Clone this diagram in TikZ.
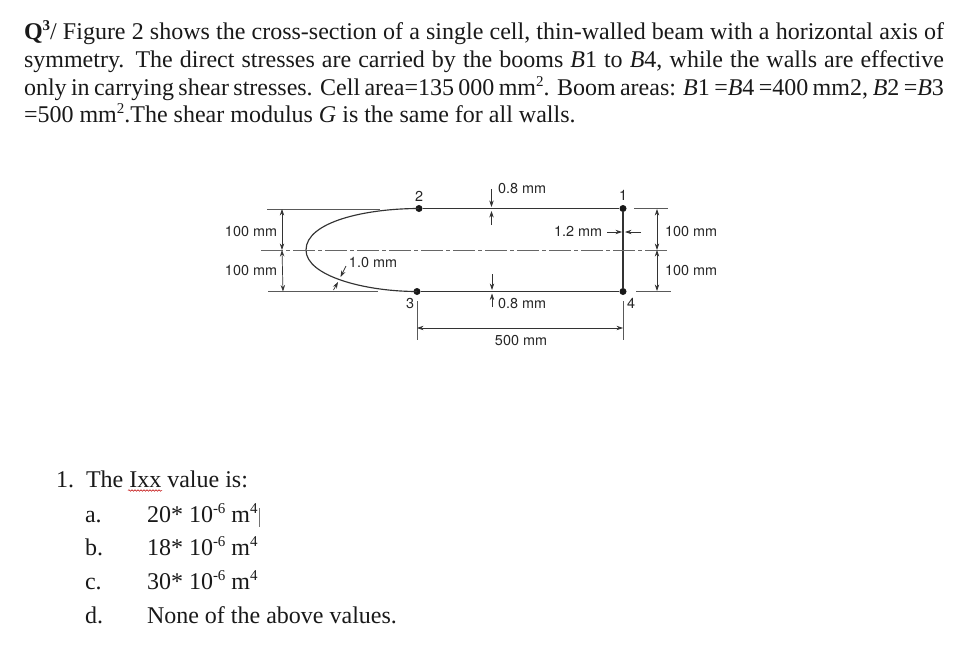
\documentclass[tikz,border=0pt]{standalone}
\usepackage{fontspec}
\setmainfont{Liberation Serif}
\newfontfamily\figfont{TeX Gyre Heros}
\usetikzlibrary{arrows.meta,decorations.pathmorphing}
\newcommand{\supr}[1]{\raisebox{0.36em}{\fontsize{15pt}{15pt}\selectfont #1}}
\tikzset{
  txt/.style={anchor=base west,inner sep=0pt,outer sep=0pt,text=black!90,font=\fontsize{24pt}{28pt}\selectfont},
  figlabel/.style={inner sep=0pt,outer sep=0pt,text=black!85,font=\figfont\fontsize{14.4pt}{16pt}\selectfont},
  boom/.style={circle,fill=black!90,inner sep=0pt,minimum size=7pt},
  wall/.style={draw=black!80,line width=1.15pt},
  ext/.style={draw=black!65,line width=0.7pt},
  dim/.style={draw=black!80,line width=0.7pt},
  tip/.style={-{Stealth[length=6.5pt,width=4.4pt]}},
  tips/.style={{Stealth[length=6.5pt,width=4.4pt]}-{Stealth[length=6.5pt,width=4.4pt]}},
  axisline/.style={draw=black!60,line width=0.7pt,dash pattern=on 22pt off 3pt on 4pt off 3pt},
  spell/.style={draw=red!75!black,line width=0.5pt,decorate,decoration={snake,amplitude=0.8pt,segment length=3pt}},
  caret/.style={draw=black!55,line width=0.6pt}
}
\begin{document}
\begin{tikzpicture}[x=1pt,y=-1pt]
\useasboundingbox (0,0) rectangle (964,653);
% question text
\node[txt] (l1) at (24,39) {\hbox to 920pt{\textbf{Q\supr{3}}/ Figure 2 shows the cross-section of a single cell, thin-walled beam with a horizontal axis of}};
\node[txt] (l2) at (24,67) {\hbox to 920pt{symmetry. The direct stresses are carried by the booms \textit{B}1 to \textit{B}4, while the walls are effective}};
\node[txt] (l3) at (24,95) {\hbox to 920pt{only in carrying shear stresses. Cell area=135 000 mm\supr{2}. Boom areas: \textit{B}1 =\textit{B}4 =400 mm2, \textit{B}2 =\textit{B}3}};
\node[txt] (l4) at (24,122) {=500 mm\supr{2}.The shear modulus \textit{G} is the same for all walls.};
% booms
\node[boom] (b1) at (623,208.5) {};
\node[boom] (b2) at (419,208.5) {};
\node[boom] (b3) at (417,291.5) {};
\node[boom] (b4) at (623,291.5) {};
\node[figlabel] (n1) at (623,195) {1};
\node[figlabel] (n2) at (419,196) {2};
\node[figlabel] (n3) at (410,303) {3};
\node[figlabel] (n4) at (631,303) {4};
% walls
\draw[wall] (b2) -- (b1);
\draw[wall] (b1) -- (b4);
\draw[wall] (b4) -- (b3);
\coordinate (nose) at (306,250);
\draw[wall] (b2.center) .. controls (365,208.5) and (306,222) .. (nose) .. controls (306,276) and (365,291.5) .. (b3.center);
% axis
\coordinate (axL) at (261,250);
\coordinate (axR) at (669,250);
\draw[axisline] (axL) -- (axR);
% left dimensions
\coordinate (tl1) at (267,209);
\coordinate (tl2) at (380,209);
\coordinate (bl1) at (268,291.5);
\coordinate (bl2) at (378,291.5);
\draw[ext] (tl1) -- (tl2);
\draw[ext] (bl1) -- (bl2);
\coordinate (dlt) at (282,209);
\coordinate (dlm) at (282,250);
\coordinate (dlb) at (283,291.5);
\draw[dim,tips] (dlt) -- (dlm);
\draw[dim,tips] (dlm) -- (dlb);
\node[figlabel] (d1) at (251,232) {100 mm};
\node[figlabel] (d2) at (251,271) {100 mm};
% right dimensions
\coordinate (tr1) at (634,208.5);
\coordinate (tr2) at (668,208.5);
\coordinate (br1) at (636,291);
\coordinate (br2) at (671,291);
\draw[ext] (tr1) -- (tr2);
\draw[ext] (br1) -- (br2);
\coordinate (drt) at (657,209);
\coordinate (drm) at (657,250);
\coordinate (drb) at (657,291);
\draw[dim,tips] (drt) -- (drm);
\draw[dim,tips] (drm) -- (drb);
\node[figlabel] (d3) at (691,232) {100 mm};
\node[figlabel] (d4) at (691,271) {100 mm};
% nose thickness
\node[figlabel] (t1) at (373,262) {1.0 mm};
\coordinate (la) at (346,266);
\coordinate (lam) at (340.5,277);
\coordinate (lbm) at (338,282);
\coordinate (lb) at (333.5,290);
\draw[dim,tip] (la) -- (lam);
\draw[dim,tip] (lb) -- (lbm);
% top skin thickness
\node[figlabel] (t2) at (522,189) {0.8 mm};
\coordinate (ta) at (491.5,189);
\coordinate (tam) at (491.5,207);
\coordinate (tb) at (491.5,225);
\coordinate (tbm) at (491.5,211);
\draw[dim,tip] (ta) -- (tam);
\draw[dim,tip] (tb) -- (tbm);
% bottom skin thickness
\node[figlabel] (t3) at (522,303) {0.8 mm};
\coordinate (ba) at (492,274);
\coordinate (bam) at (492,290);
\coordinate (bb) at (492,307);
\coordinate (bbm) at (492,293.5);
\draw[dim,tip] (ba) -- (bam);
\draw[dim,tip] (bb) -- (bbm);
% web thickness
\node[figlabel] (t4) at (578,231.5) {1.2 mm};
\coordinate (wa) at (607,232);
\coordinate (wam) at (622,232);
\coordinate (wb) at (641,232);
\coordinate (wbm) at (625,232);
\draw[dim,tip] (wa) -- (wam);
\draw[dim,tip] (wb) -- (wbm);
% span
\coordinate (s3a) at (417,301);
\coordinate (s3b) at (417,340);
\coordinate (s4a) at (623,301);
\coordinate (s4b) at (623,340);
\coordinate (s3m) at (417,328);
\coordinate (s4m) at (623,328);
\draw[ext] (s3a) -- (s3b);
\draw[ext] (s4a) -- (s4b);
\draw[dim,tips] (s3m) -- (s4m);
\node[figlabel] (t5) at (521,340) {500 mm};
% multiple choice
\node[txt] (q) at (56,487) {1.};
\node[txt] (q2) at (86,487) {The Ixx value is:};
\coordinate (sp1) at (128,490.5);
\coordinate (sp2) at (162,490.5);
\draw[spell] (sp1) -- (sp2);
\node[txt] (a1) at (85,522) {a.};
\node[txt] (a2) at (147,522) {20* 10\supr{-6} m\supr{4}};
\coordinate (c1) at (259,508);
\coordinate (c2) at (259,527);
\draw[caret] (c1) -- (c2);
\node[txt] (b1t) at (85,555) {b.};
\node[txt] (b2t) at (147,555) {18* 10\supr{-6} m\supr{4}};
\node[txt] (c1t) at (85,589) {c.};
\node[txt] (c2t) at (147,589) {30* 10\supr{-6} m\supr{4}};
\node[txt] (d1t) at (85,623) {d.};
\node[txt] (d2t) at (147,623) {None of the above values.};
\end{tikzpicture}
\end{document}
